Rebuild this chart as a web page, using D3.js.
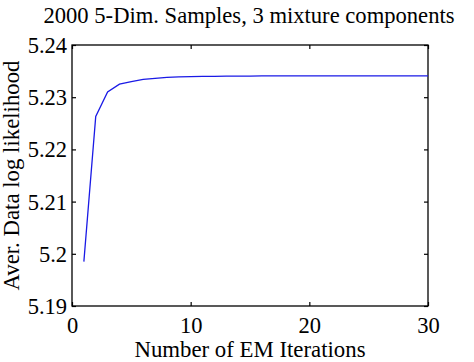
<!DOCTYPE html>
<html>
<head>
<meta charset="utf-8">
<script src="https://cdn.jsdelivr.net/npm/d3@7"></script>
<style>
  html, body { margin: 0; padding: 0; background: #fff; }
  svg text { font-family: "Liberation Serif", "Times New Roman", Times, serif !important; fill: #000; }
</style>
</head>
<body>
<svg id="chart" width="474" height="362"></svg>
<script>
const iterations = [1,2,3,4,5,6,7,8,9,10,11,12,13,14,15,16,17,18,19,20,21,22,23,24,25,26,27,28,29,30];
const logLikelihood = [5.1985,5.2263,5.2310,5.2325,5.2330,5.2334,5.2336,5.2338,5.2339,5.23395,
  5.2340,5.2340,5.23403,5.23405,5.23405,5.2341,5.2341,5.2341,5.2341,5.2341,
  5.2341,5.2341,5.2341,5.2341,5.2341,5.2341,5.2341,5.2341,5.2341,5.2341];
const xTicks = [0,10,20,30];
const yTicks = [5.19,5.20,5.21,5.22,5.23,5.24];
const yTickLabels = ["5.19","5.2","5.21","5.22","5.23","5.24"];
const titleText = "2000 5-Dim. Samples, 3 mixture components";
const xLabel = "Number of EM Iterations";
const yLabel = "Aver. Data log likelihood";

const FONT = "'Liberation Serif', 'Times New Roman', Times, serif";
const svg = d3.select("#chart");
const L = 72, R = 428, T = 45, B = 306;
const x = d3.scaleLinear().domain([0,30]).range([L,R]);
const y = d3.scaleLinear().domain([5.19,5.24]).range([B,T]);

// box
svg.append("rect").attr("x",L).attr("y",T).attr("width",R-L).attr("height",B-T)
  .attr("fill","none").attr("stroke","#000").attr("stroke-width",1.3);

const tl = 4;
const xb = svg.append("g").attr("transform",`translate(0,${B})`)
  .call(d3.axisBottom(x).tickValues(xTicks).tickSize(-tl).tickPadding(0).tickFormat(d3.format("d")));
const xt = svg.append("g").attr("transform",`translate(0,${T})`)
  .call(d3.axisTop(x).tickValues(xTicks).tickSize(-tl).tickFormat(""));
const yl = svg.append("g").attr("transform",`translate(${L},0)`)
  .call(d3.axisLeft(y).tickValues(yTicks).tickSize(-tl).tickPadding(0).tickFormat((d,i)=>yTickLabels[i]));
const yr = svg.append("g").attr("transform",`translate(${R},0)`)
  .call(d3.axisRight(y).tickValues(yTicks).tickSize(-tl).tickFormat(""));
[xb,xt,yl,yr].forEach(g=>{
  g.attr("font-family",FONT);
  g.select(".domain").remove();
  g.selectAll(".tick line").attr("stroke","#000").attr("stroke-width",1.2);
  g.selectAll("text").attr("font-size",22.5).style("font-family",FONT).attr("fill","#000");
});
xb.selectAll("text").attr("y",27).attr("dy",null);
yl.selectAll("text").attr("x",-5).attr("dy","0.33em");

// line
svg.append("path")
  .datum(iterations.map((d,i)=>[d,logLikelihood[i]]))
  .attr("fill","none").attr("stroke","#1a1ae6").attr("stroke-width",1.3)
  .attr("d", d3.line().x(d=>x(d[0])).y(d=>y(d[1])));

// title
svg.append("text").attr("x",249).attr("y",23).attr("text-anchor","middle")
  .attr("font-size",22.6).style("font-family",FONT).text(titleText);
// x label
svg.append("text").attr("x",(L+R)/2).attr("y",357).attr("text-anchor","middle")
  .attr("font-size",22.8).style("font-family",FONT).text(xLabel);
// y label
svg.append("text").attr("transform",`translate(19,${(T+B)/2}) rotate(-90)`)
  .attr("text-anchor","middle").attr("font-size",22.8).style("font-family",FONT).text(yLabel);
</script>
</body>
</html>
